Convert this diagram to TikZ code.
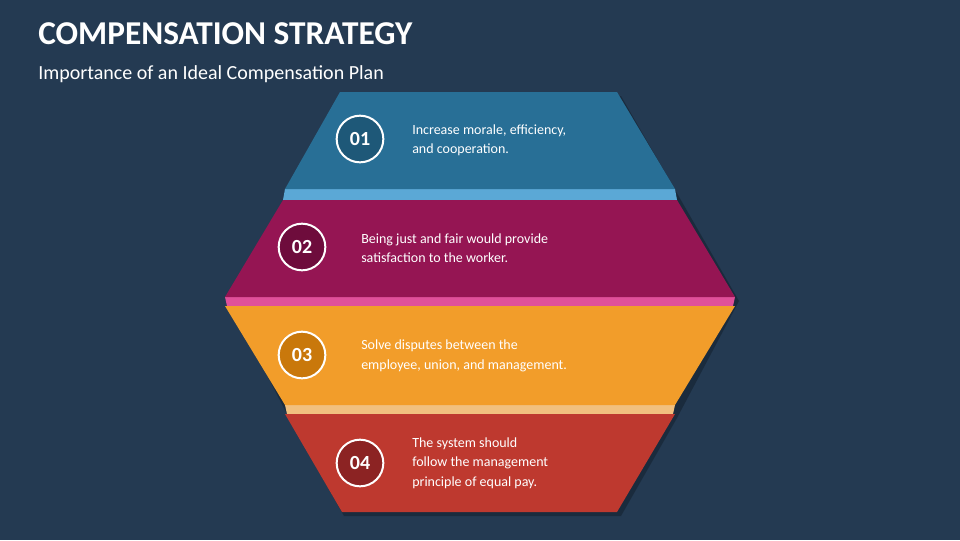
\documentclass[tikz,border=0pt]{standalone}
\usepackage{fontspec}
\setmainfont{Carlito}
\definecolor{bg}{HTML}{243A52}
\definecolor{cA}{HTML}{286F96}\definecolor{dA}{HTML}{1E5878}\definecolor{sA}{HTML}{5BA8D6}
\definecolor{cB}{HTML}{951553}\definecolor{dB}{HTML}{6E0C3C}\definecolor{sB}{HTML}{E0509A}
\definecolor{cC}{HTML}{F29D2A}\definecolor{dC}{HTML}{C9780B}\definecolor{sC}{HTML}{F1C07F}
\definecolor{cD}{HTML}{BE392F}\definecolor{dD}{HTML}{8C2323}
\tikzset{
 num/.style={circle,draw=white,line width=1.5pt,minimum size=35pt,inner sep=0pt,text=white,font=\fontsize{15}{18}\selectfont\bfseries},
 txt/.style={anchor=west,align=left,text=white,font=\fontsize{10.5}{14.5}\selectfont,inner sep=0pt}
}
\begin{document}
\begin{tikzpicture}[x=0.75pt,y=-0.75pt]
\fill[bg] (0,0) rectangle (960,540);
\useasboundingbox (0,0) rectangle (960,540);
\node[anchor=west,text=white,font=\fontsize{25}{30}\selectfont\bfseries,inner sep=0pt] (title) at (38,34) {COMPENSATION STRATEGY};
\node[anchor=west,text=white,font=\fontsize{15}{18}\selectfont,inner sep=0pt] (sub) at (38,74) {Importance of an Ideal Compensation Plan};
% shadows
\fill[black,opacity=0.25] (344,96) -- (621,96) -- (739,301) -- (677,418) -- (621,516) -- (344,516) -- (289,418) -- (229,301) -- cycle;
% strips
\fill[sA] (285,189) -- (675,189) -- (677,200) -- (283,200) -- cycle;
\fill[sB] (225,297) -- (735,297) -- (733,306) -- (227,306) -- cycle;
\fill[sC] (285,405) -- (675,405) -- (673,414) -- (287,414) -- cycle;
% bands
\fill[cA] (340,92) -- (617,92) -- (675,189) -- (285,189) -- cycle;
\fill[cB] (283,200) -- (677,200) -- (735,297) -- (225,297) -- cycle;
\fill[cC] (225,306) -- (735,306) -- (675,405) -- (285,405) -- cycle;
\fill[cD] (285,414) -- (675,414) -- (617,512) -- (342,512) -- cycle;
\node[num,fill=dA] (n1) at (360,139) {01};
\node[num,fill=dB] (n2) at (302,247) {02};
\node[num,fill=dC] (n3) at (302,355) {03};
\node[num,fill=dD] (n4) at (360,463) {04};
\node[txt] (t1) at (412,140) {Increase morale, efficiency,\\and cooperation.};
\node[txt] (t2) at (361,248) {Being just and fair would provide\\satisfaction to the worker.};
\node[txt] (t3) at (361,356) {Solve disputes between the\\employee, union, and management.};
\node[txt] (t4) at (412,463) {The system should\\follow the management\\principle of equal pay.};
\end{tikzpicture}
\end{document}
